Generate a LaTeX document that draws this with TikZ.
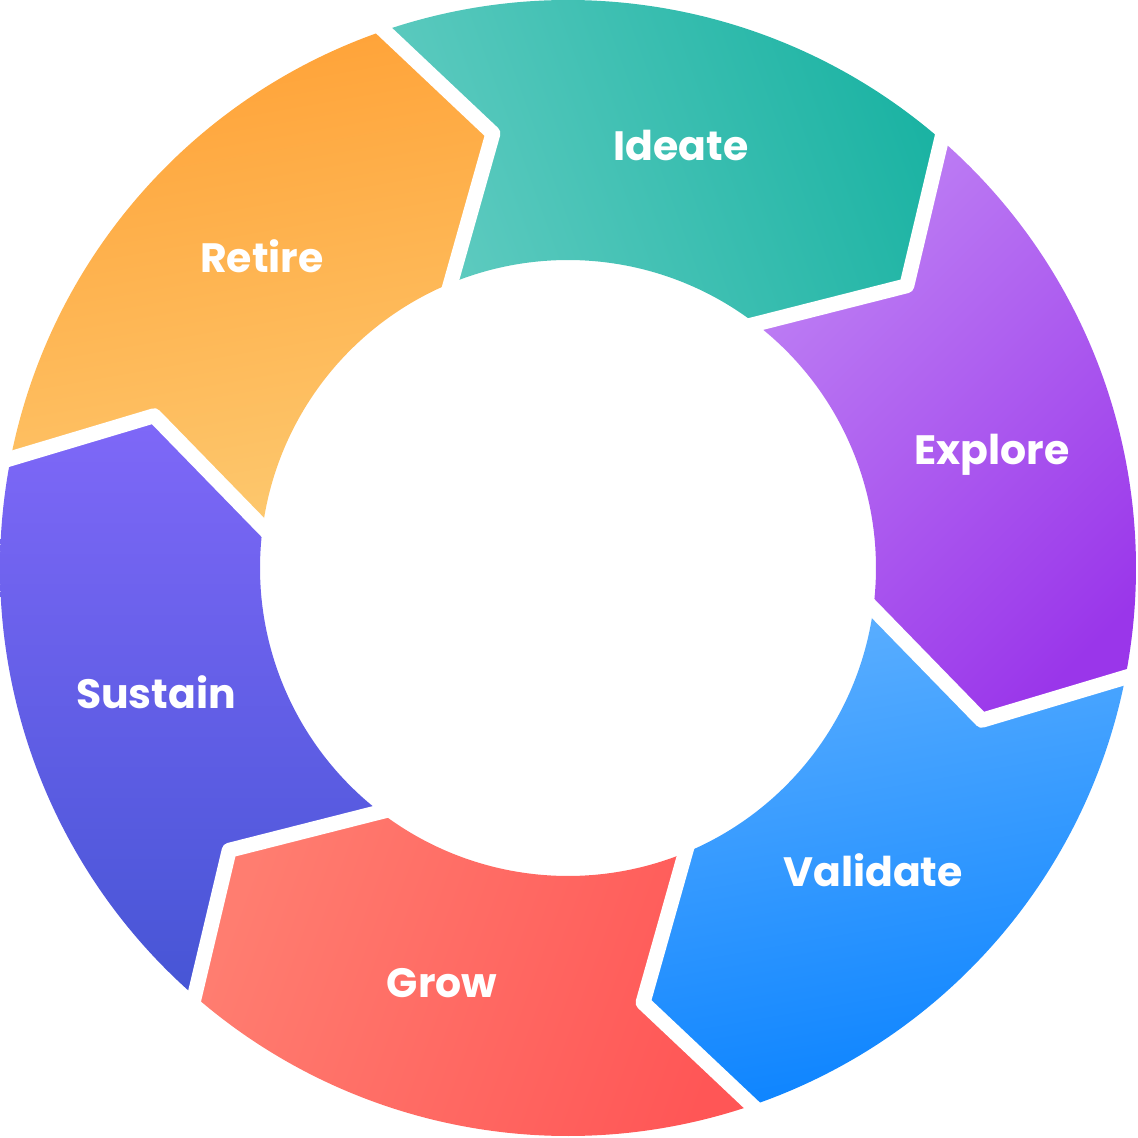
\documentclass[tikz,border=0pt]{standalone}
\usepackage{fontspec}
\setmainfont{Poppins}
\usetikzlibrary{calc}
\definecolor{ideA}{HTML}{5FCBC0}
\definecolor{ideB}{HTML}{1BB3A3}
\definecolor{expA}{HTML}{BE80F4}
\definecolor{expB}{HTML}{9A36EA}
\definecolor{valA}{HTML}{5AAEFF}
\definecolor{valB}{HTML}{0B83FF}
\definecolor{groA}{HTML}{FF7D70}
\definecolor{groB}{HTML}{FF5656}
\definecolor{susA}{HTML}{7F68F8}
\definecolor{susB}{HTML}{4655D5}
\definecolor{retA}{HTML}{FFA237}
\definecolor{retB}{HTML}{FDC86E}
\newcommand\Ro{568}
\newcommand\Ri{308}
\newcommand\Rm{441}
\newcommand\drawseg[2]{%
  \pgfmathsetmacro\ta{#1}\pgfmathsetmacro\tb{#1-60}%
  \pgfmathsetmacro\tbt{\tb-9.1}\pgfmathsetmacro\tbi{\tb+3.5}%
  \pgfmathsetmacro\tai{\ta+3.5}\pgfmathsetmacro\tat{\ta-9.1}%
  \path[#2] (\ta:\Ro) arc[start angle=\ta, end angle=\tb, radius=\Ro]
    -- (\tbt:\Rm) -- (\tbi:\Ri)
    arc[start angle=\tbi, end angle=\tai, radius=\Ri]
    -- (\tat:\Rm) -- cycle;}
\newcommand\drawgap[1]{%
  \pgfmathsetmacro\tg{#1}\pgfmathsetmacro\tgt{#1-9.1}\pgfmathsetmacro\tgi{#1+3.5}%
  \coordinate (gt) at (\tgt:\Rm);
  \coordinate (go) at (\tg:\Ro);
  \coordinate (gi) at (\tgi:\Ri);
  \draw[gapline] ($(gt)!1.15!(go)$) -- (gt) -- ($(gt)!1.15!(gi)$);}
\begin{document}
\begin{tikzpicture}[x=1pt,y=1pt,
  gapline/.style={white, line width=15pt, line join=round, line cap=round},
  lbl/.style={text=white, font=\fontsize{41}{48}\selectfont\bfseries}]
\useasboundingbox (-568,-570) rectangle (570,568);
\drawseg{108.9}{top color=ideB, bottom color=ideA, shading angle=-70}
\drawseg{48.9}{top color=expA, bottom color=expB, shading angle=45}
\drawseg{-11.1}{top color=valA, bottom color=valB, shading angle=10}
\drawseg{-71.1}{top color=groA, bottom color=groB, shading angle=70}
\drawseg{-131.1}{top color=susA, bottom color=susB, shading angle=0}
\drawseg{-191.1}{top color=retA, bottom color=retB, shading angle=10}
\drawgap{108.9}
\drawgap{48.9}
\drawgap{-11.1}
\drawgap{-71.1}
\drawgap{-131.1}
\drawgap{-191.1}
\node[lbl] (ideate) at (113,423) {Ideate};
\node[lbl] (explore) at (424,113) {Explore};
\node[lbl] (validate) at (305,-302) {Validate};
\node[lbl] (grow) at (-126,-415) {Grow};
\node[lbl] (sustain) at (-412,-124) {Sustain};
\node[lbl] (retire) at (-306,312) {Retire};
\end{tikzpicture}
\end{document}
